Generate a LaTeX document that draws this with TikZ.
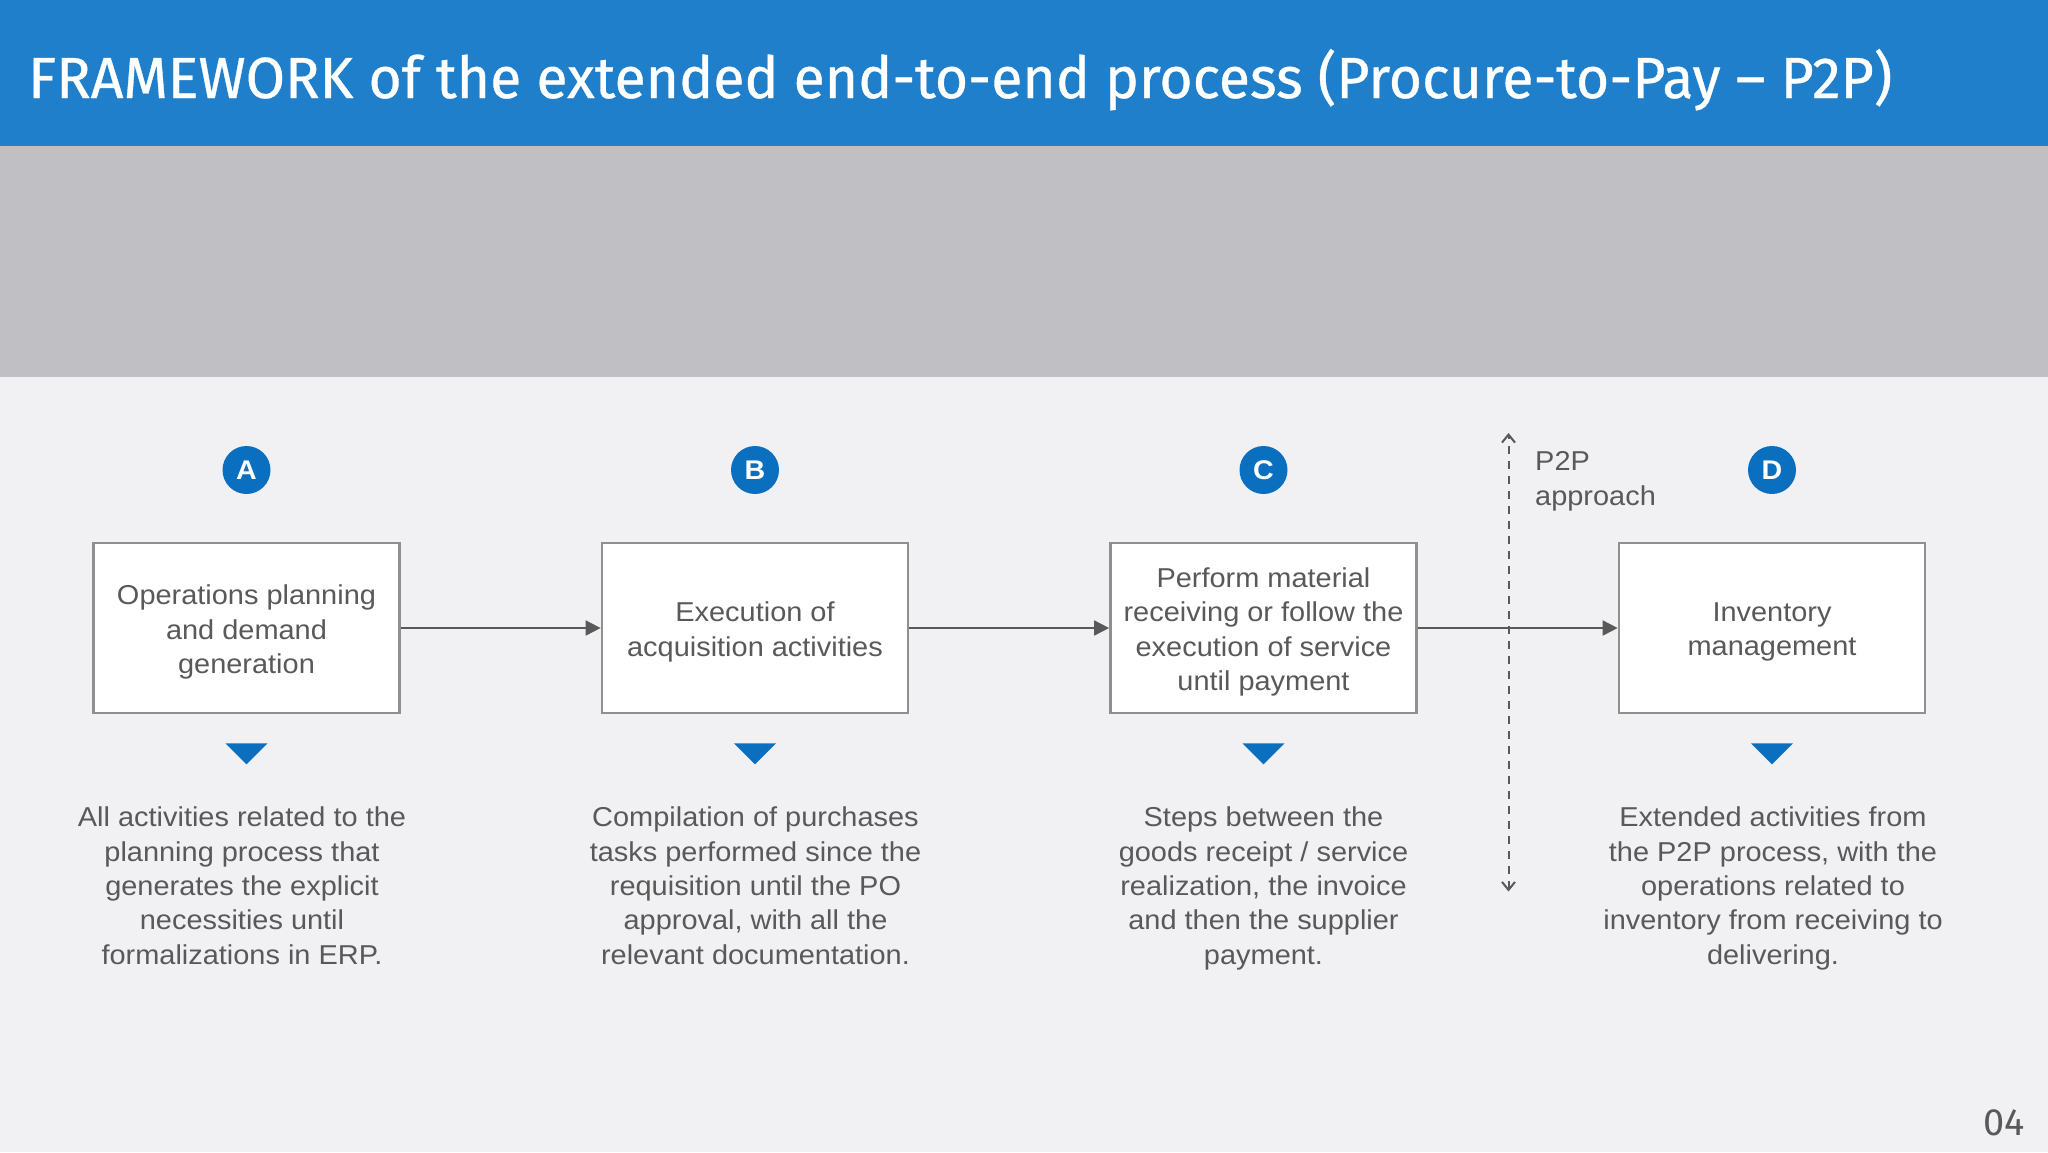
\documentclass[tikz,border=0pt]{standalone}
\usepackage{fontspec}
\usepackage{graphicx}
\setmainfont[FakeStretch=1.06]{Liberation Sans}
\newfontfamily\titlefont[FakeBold=0.6]{Fira Sans}
\newfontfamily\numfont{Fira Sans}
\usetikzlibrary{arrows.meta,calc}
\definecolor{hdrblue}{HTML}{1F7FCB}
\definecolor{bandgray}{HTML}{C0BFC3}
\definecolor{bgcol}{HTML}{F1F0F3}
\definecolor{dotblue}{HTML}{0A6FBF}
\definecolor{txtgray}{HTML}{595959}
\definecolor{boxgray}{HTML}{8F8F8F}
\tikzset{
  stepbox/.style={draw=boxgray, line width=2.7pt, fill=white, minimum width=306pt, minimum height=170pt,
    inner sep=0pt},
  boxtext/.style={inner sep=0pt, align=center, text=txtgray, font=\fontsize{27.3}{34.3}\selectfont, yshift=-4pt},
  letterdot/.style={circle, fill=dotblue, minimum size=48pt, inner sep=0pt, text=white,
    font=\bfseries\fontsize{27}{27}\selectfont},
  desc/.style={anchor=north, inner sep=0pt, align=center, text=txtgray, font=\fontsize{27.3}{34.3}\selectfont},
  flow/.style={draw=txtgray, line width=1.7pt, -{Triangle[length=15pt,width=15pt]}},
  marker/.style={fill=dotblue},
  p2pline/.style={draw=txtgray, line width=2pt, dash pattern=on 8pt off 7pt,
    {Straight Barb[length=8pt,width=13pt,line width=2pt]}-{Straight Barb[length=8pt,width=13pt,line width=2pt]}}
}
\begin{document}
\begin{tikzpicture}[x=1pt,y=-1pt]
\fill[bgcol] (0,0) rectangle (2048,1152);
\useasboundingbox (0,0) rectangle (2048,1152);
\fill[hdrblue] (0,0) rectangle (2048,146);
\fill[bandgray] (0,146) rectangle (2048,377);

\node[anchor=base west, inner sep=0pt, text=white] (title) at (28,98)
  {\resizebox{1864pt}{\height}{\titlefont\fontsize{58}{58}\selectfont FRAMEWORK of the extended end-to-end process (Procure-to-Pay – P2P)}};

% boxes
\node[stepbox, label={[boxtext]center:{Operations planning\\and demand\\generation}}] (boxA) at (246.5,628) {};
\node[stepbox, label={[boxtext]center:{Execution of\\acquisition activities}}] (boxB) at (755,628) {};
\node[stepbox, label={[boxtext]center:{Perform material\\receiving or follow the\\execution of service\\until payment}}] (boxC) at (1263.5,628) {};
\node[stepbox, label={[boxtext]center:{Inventory\\management}}] (boxD) at (1772,628) {};

% letter circles
\node[letterdot] (dotA) at (246.5,470) {A};
\node[letterdot] (dotB) at (755,470) {B};
\node[letterdot] (dotC) at (1263.5,470) {C};
\node[letterdot] (dotD) at (1772,470) {D};

% connectors
\draw[flow] (boxA.east) -- (boxB.west);
\draw[flow] (boxB.east) -- (boxC.west);
\draw[flow] (boxC.east) -- (boxD.west);

% P2P divider
\coordinate (p2ptop) at (1508.5,433);
\coordinate (p2pbot) at (1508.5,891.5);
\draw[p2pline] (p2pbot) -- (p2ptop);
\node[anchor=north west, inner sep=0pt, align=left, text=txtgray, font=\fontsize{27.3}{34.3}\selectfont] (p2plabel) at (1535,451.5) {P2P\\approach};

% triangles
\foreach \b in {boxA,boxB,boxC,boxD}{
  \fill[marker] ([xshift=-21pt,yshift=-29pt]\b.south) -- ([xshift=21pt,yshift=-29pt]\b.south) -- ([yshift=-50pt]\b.south) -- cycle;
}

% descriptions
\node[desc] (descA) at (242,807) {All activities related to the\\planning process that\\generates the explicit\\necessities until\\formalizations in ERP.};
\node[desc] (descB) at (755.5,807) {Compilation of purchases\\tasks performed since the\\requisition until the PO\\approval, with all the\\relevant documentation.};
\node[desc] (descC) at (1263.5,807) {Steps between the\\goods receipt / service\\realization, the invoice\\and then the supplier\\payment.};
\node[desc] (descD) at (1773,807) {Extended activities from\\the P2P process, with the\\operations related to\\inventory from receiving to\\delivering.};

% page number
\node[anchor=base east, inner sep=0pt, text=txtgray, font=\numfont\fontsize{38}{38}\selectfont] (pagenum) at (2025,1135) {04};
\end{tikzpicture}
\end{document}
